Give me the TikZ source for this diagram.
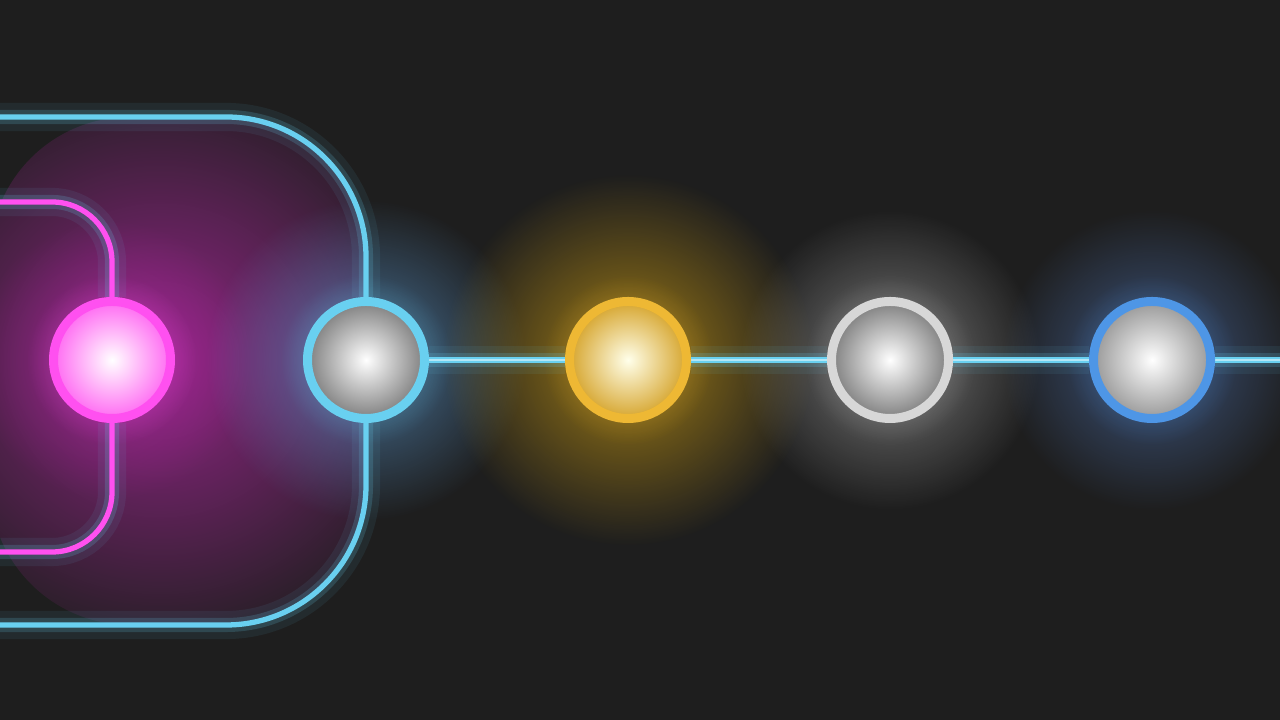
\documentclass[tikz,border=0pt]{standalone}
\usepackage{tikz}
\usetikzlibrary{backgrounds,fadings}

\definecolor{bgdark}{RGB}{30,30,30}
\definecolor{neoncyan}{RGB}{105,208,240}
\definecolor{neonpink}{RGB}{255,80,240}
\definecolor{ringyellow}{RGB}{238,184,52}
\definecolor{ringwhite}{RGB}{215,215,215}
\definecolor{ringblue}{RGB}{78,150,230}
\definecolor{glowpink}{RGB}{175,40,160}
\definecolor{glowcyan}{RGB}{90,150,205}
\definecolor{glowyellow}{RGB}{175,135,20}
\definecolor{glowwhite}{RGB}{150,150,150}
\definecolor{glowblue}{RGB}{75,110,170}

\tikzfading[name=soft glow, inner color=transparent!0, outer color=transparent!100]

\begin{document}
\begin{tikzpicture}[node distance=2.62cm,
                    main node/.style={circle,draw,line width=0.09cm,minimum size=1.17cm,
                      inner sep=0pt,shading=radial,inner color=white,outer color=black!50},
                    neon line/.style={line width=1.5pt,draw=neoncyan},
                    neon glow/.style={line width=8pt,draw=neoncyan,opacity=0.08},
                    neon haze/.style={line width=4pt,draw=neoncyan,opacity=0.18},
                    soft/.style={path fading=soft glow}]
  \useasboundingbox (0,0) rectangle (12.8,7.2);
  \node[main node,draw=neonpink,outer color=neonpink!85!white] (1) at (1.12,3.6) {};
  \node[main node,draw=neoncyan] (2) at (3.66,3.6) {};
  \node[main node,draw=ringyellow,inner color=yellow!8!white,outer color=ringyellow!90!black] (3) [right of=2] {};
  \node[main node,draw=ringwhite] (4) [right of=3] {};
  \node[main node,draw=ringblue,outer color=black!40] (5) [right of=4] {};
  \coordinate (c1) at (-0.1,6.03);
  \coordinate (c2) at (-0.1,0.95);
  \coordinate (m1) at (-0.1,5.18);
  \coordinate (m2) at (-0.1,1.68);
  \coordinate (c3) at (12.9,3.6);
  \begin{scope}[on background layer]
    \fill[bgdark] (0,0) rectangle (12.8,7.2);
    % haze inside the outer loop
    \begin{scope}
      \clip[rounded corners=1.4cm] (c1) -| (2.center) |- (c2) -- cycle;
      \fill[glowpink,soft,opacity=0.8] (1.6,3.6) circle (3.1);
    \end{scope}
    \fill[glowpink,soft,opacity=0.6] (1.center) circle (1.4);
    \fill[glowcyan,soft,opacity=0.7] (2.center) circle (1.6);
    \fill[glowyellow,soft,opacity=0.9] (3.center) circle (1.85);
    \fill[glowwhite,soft,opacity=0.75] (4.center) circle (1.5);
    \fill[glowblue,soft,opacity=0.7] (5.center) circle (1.5);
    % halos of the rings
    \fill[neonpink,soft,opacity=0.6] (1.center) circle (0.85);
    \fill[neoncyan,soft,opacity=0.5] (2.center) circle (0.85);
    \fill[ringyellow,soft,opacity=0.5] (3.center) circle (0.85);
    \fill[ringwhite,soft,opacity=0.4] (4.center) circle (0.85);
    \fill[ringblue,soft,opacity=0.5] (5.center) circle (0.85);
    % loops
    \draw[neon glow,rounded corners=1.4cm] (c1) -| (2.north) (2.south) |- (c2);
    \draw[neon haze,rounded corners=1.4cm] (c1) -| (2.north) (2.south) |- (c2);
    \draw[neon line,rounded corners=1.4cm] (c1) -| (2.north) (2.south) |- (c2);
    \draw[neon glow,rounded corners=0.6cm] (m1) -| (1.north) (1.south) |- (m2);
    \draw[neon haze,rounded corners=0.6cm] (m1) -| (1.north) (1.south) |- (m2);
    \draw[neon line,draw=neonpink,rounded corners=0.6cm] (m1) -| (1.north) (1.south) |- (m2);
    % chain
    \path[neon glow] (2) edge (3) (3) edge (4) (4) edge (5) (5) edge (c3);
    \path[neon haze] (2) edge (3) (3) edge (4) (4) edge (5) (5) edge (c3);
    \path[neon line] (2) edge (3) (3) edge (4) (4) edge (5) (5) edge (c3);
    \path[line width=0.5pt,draw=white,opacity=0.5] (2) edge (3) (3) edge (4) (4) edge (5) (5) edge (c3);
  \end{scope}
\end{tikzpicture}
\end{document}
